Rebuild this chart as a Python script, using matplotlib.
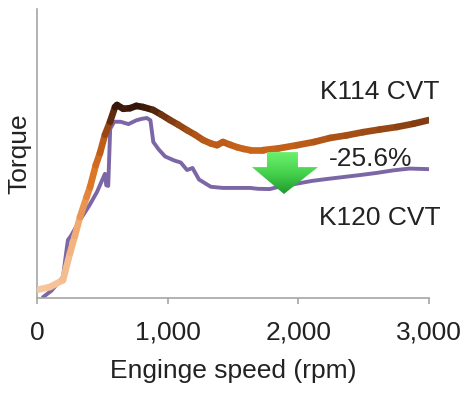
import numpy as np
import matplotlib.pyplot as plt
from matplotlib.collections import LineCollection
from matplotlib.colors import LinearSegmentedColormap, Normalize
from matplotlib.patches import Polygon

plt.rcParams['font.family'] = ['Liberation Sans', 'DejaVu Sans']

# engine speed (rpm) and torque (relative units)
k114_rpm = [0, 99, 199, 253, 290, 329, 380, 406, 450, 482, 520, 559, 597, 612,
            660, 712, 760, 811, 888, 950, 1018, 1080, 1148, 1210, 1270, 1330, 1378,
            1423, 1480, 1531, 1580, 1630, 1730, 1850, 1990, 2120, 2242, 2370, 2495,
            2620, 2755, 2880, 3000]
k114_torque = [2.8, 3.8, 6.2, 15.6, 21.5, 28.0, 35.0, 38.4, 46.0, 50.2, 56.5, 61.0,
               66.1, 66.8, 65.5, 65.7, 66.5, 66.1, 65.1, 63.5, 61.6, 60.0, 58.1, 56.5,
               54.7, 53.5, 52.9, 54.0, 53.0, 52.2, 51.6, 51.2, 51.2, 51.8, 52.9, 54.0,
               55.4, 56.3, 57.4, 58.3, 59.2, 60.3, 61.6]

k120_rpm = [46, 110, 199, 230, 237, 260, 329, 400, 459, 520, 530, 545, 560, 590,
            640, 700, 760, 800, 840, 868, 890, 930, 980, 1050, 1100, 1148, 1190, 1240,
            1330, 1423, 1530, 1630, 1690, 1780, 1870, 1980, 2100, 2220, 2350, 2480,
            2600, 2730, 2850, 3000]
k120_torque = [0.3, 2.5, 7.3, 18.0, 20.1, 21.5, 27.0, 32.0, 36.7, 43.0, 39.0, 38.8,
               58.5, 61.0, 61.0, 60.2, 61.5, 62.0, 62.3, 61.5, 54.0, 51.5, 49.0, 47.6,
               46.9, 44.3, 45.0, 41.0, 38.5, 38.1, 38.1, 38.1, 37.8, 37.7, 38.7, 39.5,
               40.5, 41.2, 41.9, 42.6, 43.3, 44.2, 44.8, 44.6]

fig = plt.figure(figsize=(4.72, 3.96), dpi=100)
ax = fig.add_axes([0.0784, 0.2475, 0.8305, 0.7295])

ax.plot(k120_rpm, k120_torque, color='#7b66a6', lw=2.8, solid_capstyle='round', zorder=2)

# K114 colored by torque: light peach low, dark brown at the peak
cmap = LinearSegmentedColormap.from_list('k114', [
    (0.0, '#f8c8a0'), (0.35, '#f2ae78'), (0.6, '#e07a2c'), (0.77, '#c8641a'),
    (0.87, '#9c4a14'), (0.93, '#763510'), (1.0, '#2a1206')])
norm = Normalize(0, 67)
pts = np.column_stack([k114_rpm, k114_torque])
segs = np.stack([pts[:-1], pts[1:]], axis=1)
mid = (pts[:-1, 1] + pts[1:, 1]) / 2
lc = LineCollection(segs, cmap=cmap, norm=norm, linewidths=4.8, capstyle='round',
                    joinstyle='round', zorder=3)
lc.set_array(mid)
ax.add_collection(lc)

# green gradient arrow
arrow = Polygon([(1760, 50.5), (1997, 50.5), (1997, 45.3), (2150, 45.3),
                 (1890, 36.0), (1645, 45.3), (1760, 45.3)],
                closed=True, facecolor='none', edgecolor='none', zorder=4)
ax.add_patch(arrow)
grad = np.linspace(0, 1, 64).reshape(-1, 1)
gcmap = LinearSegmentedColormap.from_list('g', ['#6cf06c', '#46d24e', '#1f9a2e'])
im = ax.imshow(grad, cmap=gcmap, extent=(1645, 2150, 36.0, 50.5), origin='upper',
               aspect='auto', zorder=4)
im.set_clip_path(arrow)

txt = '#222222'
fs = 19
ax.text(2625, 71.3, 'K114 CVT', fontsize=fs, color=txt, ha='center', va='center')
ax.text(2556, 48.1, '-25.6%', fontsize=fs, color=txt, ha='center', va='center', zorder=5)
ax.text(2625, 27.7, 'K120 CVT', fontsize=fs, color=txt, ha='center', va='center')

ax.set_xlim(0, 3000)
ax.set_ylim(0, 100)
ax.set_xticks([0, 1000, 2000, 3000])
ax.set_xticklabels(['0', '1,000', '2,000', '3,000'])
ax.set_yticks([])
for s in ['top', 'right']:
    ax.spines[s].set_visible(False)
for s in ['left', 'bottom']:
    ax.spines[s].set_color('#a6a6a6')
    ax.spines[s].set_linewidth(1.2)
ax.tick_params(axis='x', direction='out', length=4, width=1.2, color='#a6a6a6',
               labelsize=fs, labelcolor=txt, pad=12.5)
ax.set_xlabel('Enginge speed (rpm)', fontsize=fs, color=txt, labelpad=10)
ax.set_ylabel('Torque', fontsize=fs, color=txt, labelpad=4)

fig.savefig('out.png', dpi=100)
